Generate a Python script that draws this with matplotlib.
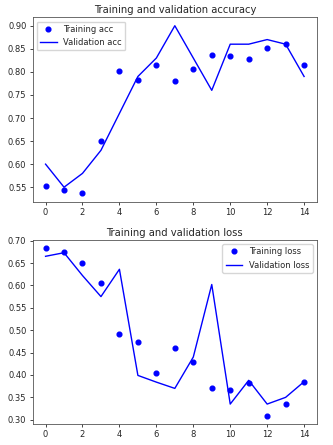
import matplotlib
matplotlib.use("Agg")
import matplotlib.pyplot as plt

epochs = list(range(15))

acc = [0.553, 0.544, 0.537, 0.650, 0.802, 0.782, 0.815, 0.780, 0.806, 0.837,
       0.835, 0.828, 0.852, 0.860, 0.815]
val_acc = [0.60, 0.55, 0.58, 0.63, 0.71, 0.79, 0.83, 0.90, 0.83, 0.76,
           0.86, 0.86, 0.87, 0.86, 0.79]

loss = [0.683, 0.674, 0.650, 0.605, 0.492, 0.473, 0.405, 0.460, 0.430, 0.371,
        0.367, 0.381, 0.309, 0.335, 0.385]
val_loss = [0.665, 0.673, 0.622, 0.575, 0.636, 0.399, 0.384, 0.370, 0.440, 0.602,
            0.335, 0.388, 0.335, 0.350, 0.385]

plt.rcParams['font.size'] = 6
plt.rcParams['axes.titlesize'] = 7.2
plt.rcParams['text.color'] = '#262626'
plt.rcParams['xtick.color'] = '#262626'
plt.rcParams['ytick.color'] = '#262626'

fig = plt.figure(figsize=(3.33, 4.45), dpi=100)

ax1 = fig.add_axes([0.098, 0.547, 0.854, 0.414])
ax1.plot(epochs, acc, 'bo', markersize=3.4, label='Training acc')
ax1.plot(epochs, val_acc, 'b', linewidth=1.0, label='Validation acc')
ax1.set_title('Training and validation accuracy', pad=3)
ax1.set_xticks(range(0, 15, 2))
ax1.legend(loc='upper left')

ax2 = fig.add_axes([0.098, 0.047, 0.854, 0.414])
ax2.plot(epochs, loss, 'bo', markersize=3.4, label='Training loss')
ax2.plot(epochs, val_loss, 'b', linewidth=1.0, label='Validation loss')
ax2.set_title('Training and validation loss', pad=3)
ax2.set_xticks(range(0, 15, 2))
ax2.legend(loc='upper right')

for ax in (ax1, ax2):
    ax.tick_params(length=2.5, width=0.6, pad=2)
    for s in ax.spines.values():
        s.set_linewidth(0.6)
        s.set_color('#555555')

fig.savefig('out.png', dpi=100)
